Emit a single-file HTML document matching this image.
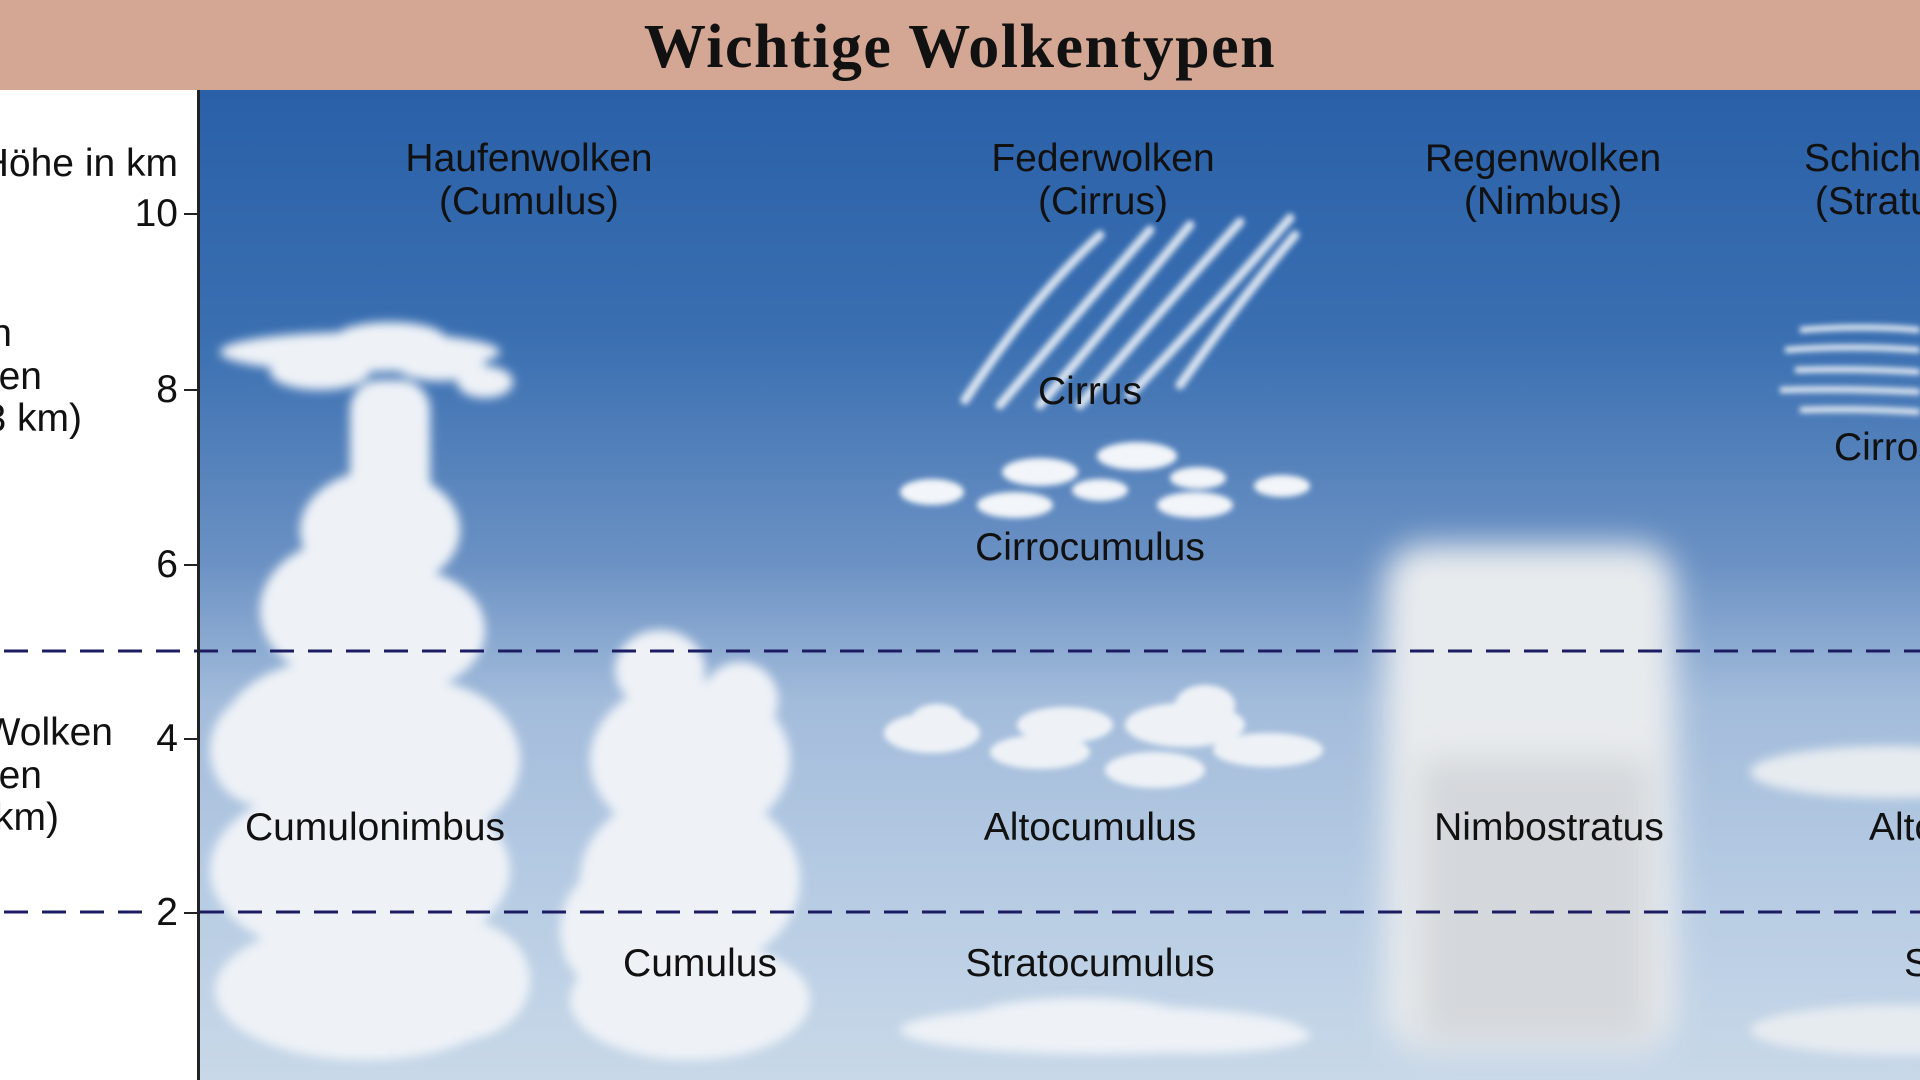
<!DOCTYPE html>
<html><head><meta charset="utf-8"><style>
html,body{margin:0;padding:0}
body{width:1920px;height:1080px;overflow:hidden;position:relative;font-family:"Liberation Sans",sans-serif;background:#fff}
#w{position:absolute;left:0;top:0;width:1920px;height:1080px;overflow:hidden}
.hdr{position:absolute;left:0;top:0;width:1920px;height:90px;background:#d3a794;text-align:center}
.hdr span{font-family:"Liberation Serif",serif;font-weight:bold;font-size:62px;line-height:94px;color:#111;letter-spacing:1.5px}
.sky{position:absolute;left:199px;top:90px;width:1721px;height:990px;background:linear-gradient(#2a60a8 0%,#3a6fb1 25%,#6c92c4 48%,#a3bcdb 62%,#b6cbe3 80%,#c8d8e8 100%)}
.axis{position:absolute;left:197px;top:90px;width:3px;height:990px;background:#222}
.t{position:absolute;font-size:39px;color:#111;white-space:nowrap}
.r{text-align:right}
.c{transform:translateX(-50%);text-align:center;line-height:43px}
.tick{position:absolute;left:184px;width:14px;height:2px;background:#222}
</style></head><body><div id="w">
<div class="hdr"><span>Wichtige Wolkentypen</span></div>
<div class="sky"></div>
<svg style="position:absolute;left:0;top:0" width="1920" height="1080">
<defs>
<filter id="b1" x="-30%" y="-30%" width="160%" height="160%"><feGaussianBlur stdDeviation="5"/></filter>
<filter id="b2" x="-30%" y="-30%" width="160%" height="160%"><feGaussianBlur stdDeviation="16"/></filter>
<filter id="b3" x="-30%" y="-30%" width="160%" height="160%"><feGaussianBlur stdDeviation="3"/></filter>
</defs>
<!-- Cumulonimbus -->
<g fill="#eef2f7" filter="url(#b1)">
<ellipse cx="360" cy="352" rx="140" ry="20"/><ellipse cx="390" cy="338" rx="55" ry="16"/><ellipse cx="485" cy="382" rx="28" ry="16"/><ellipse cx="320" cy="372" rx="50" ry="18"/><ellipse cx="440" cy="365" rx="45" ry="16"/>
<rect x="350" y="380" width="80" height="140" rx="30"/>
<ellipse cx="380" cy="530" rx="80" ry="60"/><ellipse cx="345" cy="610" rx="85" ry="70"/><ellipse cx="410" cy="630" rx="75" ry="60"/>
<ellipse cx="330" cy="740" rx="110" ry="80"/><ellipse cx="420" cy="760" rx="100" ry="80"/><ellipse cx="260" cy="750" rx="50" ry="55"/>
<ellipse cx="360" cy="870" rx="150" ry="90"/><ellipse cx="365" cy="990" rx="150" ry="70"/><ellipse cx="460" cy="980" rx="70" ry="60"/>
</g>
<!-- Cumulus -->
<g fill="#eef2f7" filter="url(#b1)">
<ellipse cx="660" cy="670" rx="45" ry="40"/><ellipse cx="740" cy="700" rx="38" ry="38"/><ellipse cx="690" cy="760" rx="100" ry="80"/>
<ellipse cx="690" cy="880" rx="110" ry="90"/><ellipse cx="690" cy="1000" rx="120" ry="60"/><ellipse cx="610" cy="930" rx="50" ry="60"/>
</g>
<!-- Cirrus -->
<g fill="none" stroke="#f4f7fb" stroke-width="9" stroke-linecap="round" filter="url(#b3)" opacity=".85">
<path d="M965 400 Q1030 300 1100 235"/><path d="M1000 405 Q1080 310 1150 230"/><path d="M1040 405 Q1120 310 1190 225"/><path d="M1080 405 Q1170 300 1240 222"/><path d="M1130 395 Q1220 300 1290 218"/><path d="M1180 385 Q1240 300 1295 235"/>
</g>
<!-- Cirrocumulus -->
<g fill="#f2f5f9" filter="url(#b3)">
<ellipse cx="932" cy="492" rx="32" ry="13"/><ellipse cx="1040" cy="472" rx="38" ry="14"/><ellipse cx="1137" cy="456" rx="40" ry="14"/><ellipse cx="1198" cy="478" rx="28" ry="11"/>
<ellipse cx="1100" cy="490" rx="28" ry="11"/><ellipse cx="1015" cy="505" rx="38" ry="13"/><ellipse cx="1195" cy="505" rx="38" ry="13"/><ellipse cx="1282" cy="486" rx="28" ry="11"/>
</g>
<!-- Altocumulus -->
<g fill="#eef2f7" filter="url(#b3)">
<ellipse cx="932" cy="733" rx="48" ry="20"/><ellipse cx="937" cy="718" rx="25" ry="14"/><ellipse cx="1065" cy="725" rx="48" ry="18"/><ellipse cx="1185" cy="725" rx="60" ry="22"/><ellipse cx="1205" cy="705" rx="30" ry="20"/>
<ellipse cx="1040" cy="752" rx="50" ry="17"/><ellipse cx="1155" cy="770" rx="50" ry="18"/><ellipse cx="1268" cy="750" rx="55" ry="17"/>
</g>
<!-- Stratocumulus -->
<g fill="#eef2f7" filter="url(#b1)"><ellipse cx="1100" cy="1030" rx="200" ry="24"/><ellipse cx="1080" cy="1020" rx="110" ry="22"/><ellipse cx="1200" cy="1035" rx="110" ry="18"/></g>
<!-- Nimbostratus -->
<g filter="url(#b2)"><rect x="1385" y="545" width="290" height="505" rx="40" fill="#e8ebee"/></g>
<g filter="url(#b2)" opacity=".55"><rect x="1420" y="760" width="230" height="280" fill="#c4c8cc"/></g>
<!-- Right side -->
<g fill="none" stroke="#f4f7fb" stroke-width="6" filter="url(#b3)" opacity=".9">
<path d="M1800 330 Q1860 325 1920 330"/><path d="M1785 350 Q1850 345 1920 350"/><path d="M1795 370 Q1860 368 1920 372"/><path d="M1780 390 Q1850 388 1920 392"/><path d="M1800 410 Q1860 408 1920 412"/>
</g>
<g fill="#e6ebf0" filter="url(#b1)"><ellipse cx="1890" cy="772" rx="140" ry="26"/><ellipse cx="1900" cy="1030" rx="150" ry="25"/></g>
<g stroke="#1c1c62" stroke-width="3" stroke-dasharray="24 14">
<line x1="4" y1="651" x2="1920" y2="651"/><line x1="4" y1="912" x2="150" y2="912"/><line x1="200" y1="912" x2="1920" y2="912"/>
</g>
</svg>
<div class="axis"></div>
<div class="tick" style="top:213px"></div><div class="tick" style="top:389px"></div><div class="tick" style="top:564px"></div><div class="tick" style="top:738px"></div><div class="tick" style="top:912px"></div>
<div class="t r" style="right:1742px;top:142px">Höhe in km</div>
<div class="t r" style="right:1742px;top:192px">10</div>
<div class="t r" style="right:1742px;top:368px">8</div>
<div class="t r" style="right:1742px;top:543px">6</div>
<div class="t r" style="right:1742px;top:717px">4</div>
<div class="t r" style="right:1742px;top:891px">2</div>
<div class="t r" style="right:1908px;top:312px">Hohe Wolken</div>
<div class="t r" style="right:1878px;top:355px">Stockwerken</div>
<div class="t r" style="right:1838px;top:397px">(über 5–13 km)</div>
<div class="t r" style="right:1807px;top:711px">Mittelhohe Wolken</div>
<div class="t r" style="right:1878px;top:754px">Stockwerken</div>
<div class="t r" style="right:1861px;top:796px">(2–5 km)</div>
<div class="t c" style="left:529px;top:137px">Haufenwolken<br>(Cumulus)</div>
<div class="t c" style="left:1103px;top:137px">Federwolken<br>(Cirrus)</div>
<div class="t c" style="left:1543px;top:137px">Regenwolken<br>(Nimbus)</div>
<div class="t" style="left:1804px;top:137px;line-height:43px">Schichtwolken<br>&nbsp;(Stratus)</div>
<div class="t c" style="left:1090px;top:370px">Cirrus</div>
<div class="t c" style="left:1090px;top:526px">Cirrocumulus</div>
<div class="t" style="left:1834px;top:426px;line-height:43px">Cirrostratus</div>
<div class="t c" style="left:375px;top:806px">Cumulonimbus</div>
<div class="t c" style="left:1090px;top:806px">Altocumulus</div>
<div class="t c" style="left:1549px;top:806px">Nimbostratus</div>
<div class="t" style="left:1869px;top:806px;line-height:43px">Altostratus</div>
<div class="t c" style="left:700px;top:942px">Cumulus</div>
<div class="t c" style="left:1090px;top:942px">Stratocumulus</div>
<div class="t" style="left:1904px;top:942px;line-height:43px">Stratus</div>
</div></body></html>
